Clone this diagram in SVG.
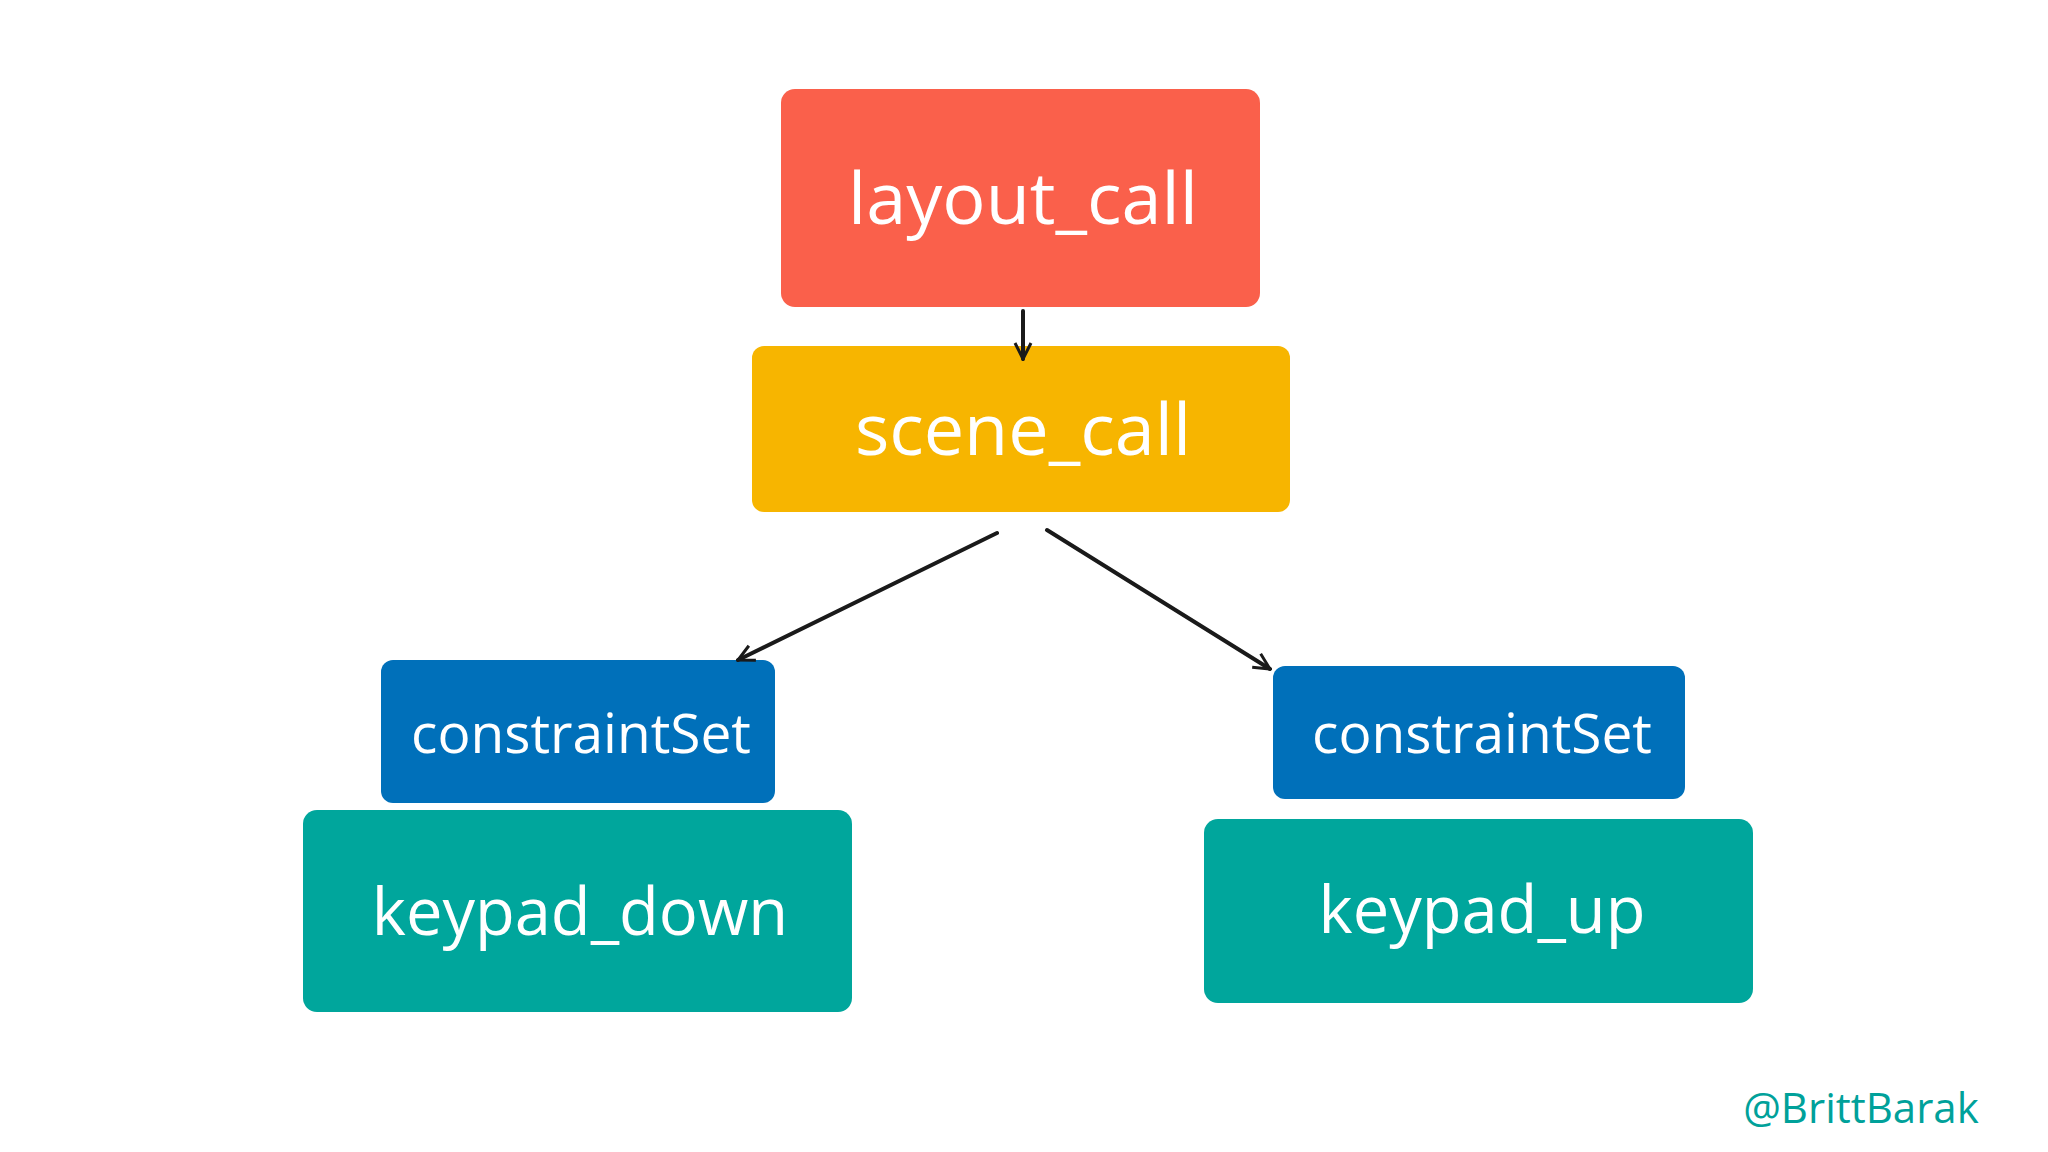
<svg xmlns="http://www.w3.org/2000/svg" width="2048" height="1152" viewBox="0 0 2048 1152">
<style>
.t{font-family:"Open Sans","Liberation Sans",sans-serif;fill:#fff;text-anchor:middle;dominant-baseline:central}
.c{stroke:#1a1a1a;stroke-width:4;fill:none;stroke-linecap:round}
</style>
<defs>
<marker id="a" viewBox="0 0 20 20" refX="18" refY="10" markerWidth="20" markerHeight="20" markerUnits="userSpaceOnUse" orient="auto">
<path d="M2 2 L18 10 L2 18" fill="none" stroke="#1a1a1a" stroke-width="3"/>
</marker>
</defs>
<rect width="2048" height="1152" fill="#fff"/>
<g id="layout_call"><rect x="781" y="89" width="479" height="218" rx="14" fill="#fa604b"/><text class="t" x="1023" y="196" font-size="72">layout_call</text></g>
<g id="scene_call"><rect x="752" y="346" width="538" height="166" rx="12" fill="#f7b500"/><text class="t" x="1023" y="427" font-size="72">scene_call</text></g>
<g id="cs_left"><rect x="381" y="660" width="394" height="143" rx="12" fill="#0070ba"/><text class="t" x="581" y="731" font-size="55">constraintSet</text></g>
<g id="keypad_down"><rect x="303" y="810" width="549" height="202" rx="14" fill="#00a69c"/><text class="t" x="580" y="910" font-size="65">keypad_down</text></g>
<g id="cs_right"><rect x="1273" y="666" width="412" height="133" rx="12" fill="#0070ba"/><text class="t" x="1482" y="731" font-size="55">constraintSet</text></g>
<g id="keypad_up"><rect x="1204" y="819" width="549" height="184" rx="14" fill="#00a69c"/><text class="t" x="1482" y="908" font-size="65">keypad_up</text></g>
<g id="connectors">
<line class="c" x1="1023" y1="311" x2="1023" y2="359" marker-end="url(#a)"/>
<line class="c" x1="997" y1="533" x2="738" y2="660" marker-end="url(#a)"/>
<line class="c" x1="1047" y1="530" x2="1270" y2="669" marker-end="url(#a)"/>
</g>
<text x="1861" y="1106" font-family="Open Sans,Liberation Sans,sans-serif" font-size="42" fill="#00a19a" text-anchor="middle" dominant-baseline="central">@BrittBarak</text>
</svg>
